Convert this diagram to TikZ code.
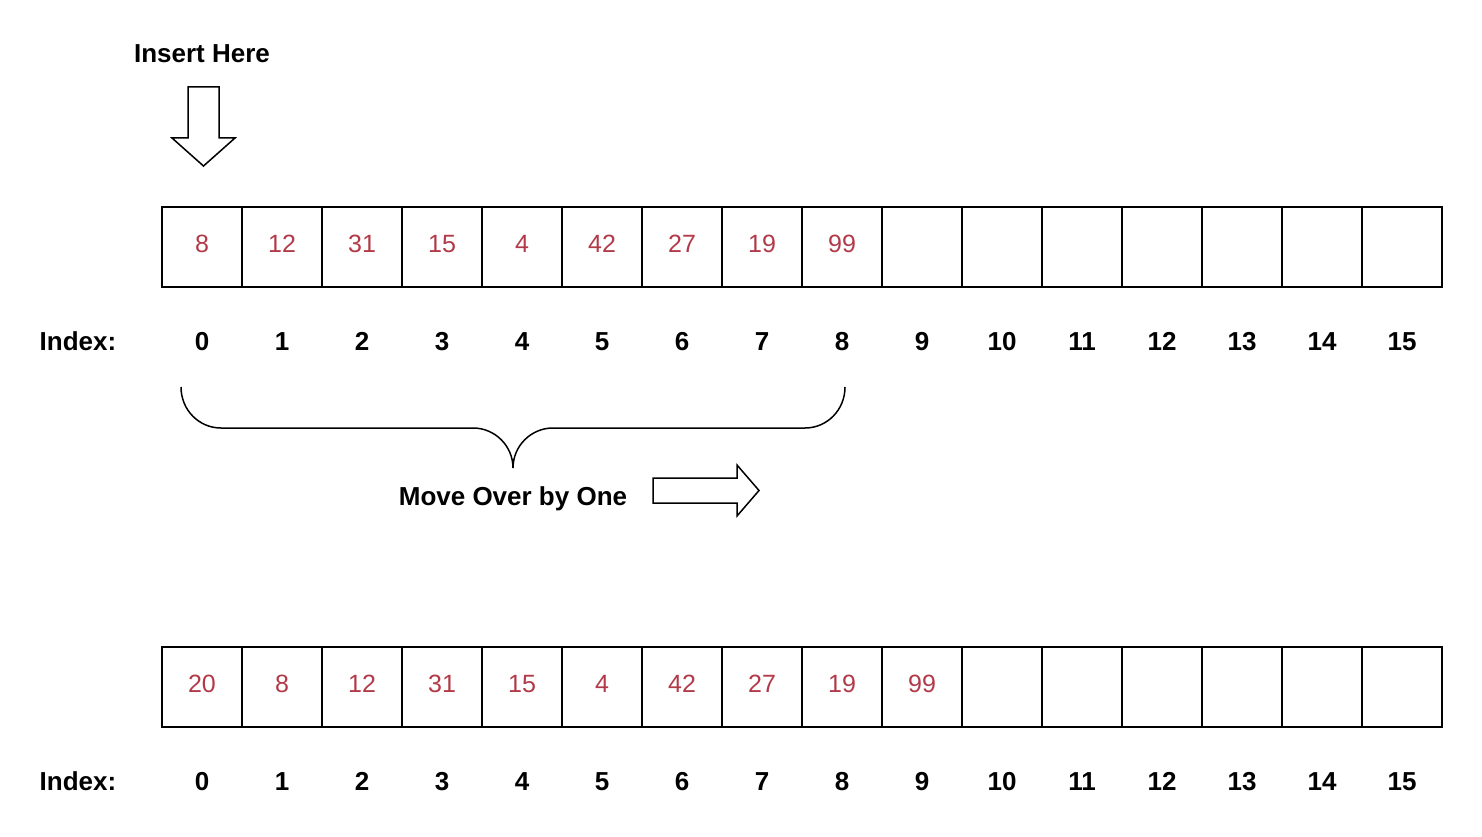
\documentclass[tikz,border=0pt]{standalone}
\usepackage{fontspec}
\setmainfont{Liberation Sans}
\definecolor{valred}{RGB}{178,58,72}
\begin{document}
\begin{tikzpicture}[x=1pt,y=-1pt,slot/.style={shape=rectangle,draw=black,line width=1.5pt,minimum size=80pt,inner sep=0pt,text height=18pt,text depth=7pt,text=valred,font=\fontsize{25}{30}\selectfont},idx/.style={inner sep=0pt,text height=18.6pt,text depth=0pt,font=\fontsize{26}{30}\selectfont\bfseries},capt/.style={anchor=base,font=\fontsize{26}{30}\selectfont\bfseries},blk/.style={draw=black,line width=1.5pt,line join=miter}]
\def\dx{80};
\def\xa{202};
\def\ya{247};
\def\yb{687};
\def\ia{341};
\def\ib{781};

\useasboundingbox (0,0) rectangle (1482,837);

\node[capt] (ins) at (202,63) {Insert Here};
\coordinate (dn) at (203.5,87);
\draw[blk] (dn) ++(-15.5,0) -- ++(31,0) -- ++(0,51) -- ++(16,0) -- ++(-31.5,28) -- ++(-31.5,-28) -- ++(16,0) -- cycle;

\node[slot] (A0) at (\xa+0*\dx,\ya) {8};
\node[slot] (A1) at (\xa+1*\dx,\ya) {12};
\node[slot] (A2) at (\xa+2*\dx,\ya) {31};
\node[slot] (A3) at (\xa+3*\dx,\ya) {15};
\node[slot] (A4) at (\xa+4*\dx,\ya) {4};
\node[slot] (A5) at (\xa+5*\dx,\ya) {42};
\node[slot] (A6) at (\xa+6*\dx,\ya) {27};
\node[slot] (A7) at (\xa+7*\dx,\ya) {19};
\node[slot] (A8) at (\xa+8*\dx,\ya) {99};
\node[slot] (A9) at (\xa+9*\dx,\ya) {};
\node[slot] (A10) at (\xa+10*\dx,\ya) {};
\node[slot] (A11) at (\xa+11*\dx,\ya) {};
\node[slot] (A12) at (\xa+12*\dx,\ya) {};
\node[slot] (A13) at (\xa+13*\dx,\ya) {};
\node[slot] (A14) at (\xa+14*\dx,\ya) {};
\node[slot] (A15) at (\xa+15*\dx,\ya) {};

\node[idx] (IA) at (78,\ia) {Index:};
\node[idx] (IA0) at (\xa+0*\dx,\ia) {0};
\node[idx] (IA1) at (\xa+1*\dx,\ia) {1};
\node[idx] (IA2) at (\xa+2*\dx,\ia) {2};
\node[idx] (IA3) at (\xa+3*\dx,\ia) {3};
\node[idx] (IA4) at (\xa+4*\dx,\ia) {4};
\node[idx] (IA5) at (\xa+5*\dx,\ia) {5};
\node[idx] (IA6) at (\xa+6*\dx,\ia) {6};
\node[idx] (IA7) at (\xa+7*\dx,\ia) {7};
\node[idx] (IA8) at (\xa+8*\dx,\ia) {8};
\node[idx] (IA9) at (\xa+9*\dx,\ia) {9};
\node[idx] (IA10) at (\xa+10*\dx,\ia) {10};
\node[idx] (IA11) at (\xa+11*\dx,\ia) {11};
\node[idx] (IA12) at (\xa+12*\dx,\ia) {12};
\node[idx] (IA13) at (\xa+13*\dx,\ia) {13};
\node[idx] (IA14) at (\xa+14*\dx,\ia) {14};
\node[idx] (IA15) at (\xa+15*\dx,\ia) {15};

% brace under indices 0..8
\coordinate (bl) at (181,387);
\coordinate (bt) at (513,468);
\coordinate (br) at (845,387);
\draw[line width=1.5pt] (bl) .. controls (181,410) and (199,428) .. (221,428) -- (473,428) .. controls (495,428) and (513,446) .. (bt) .. controls (513,446) and (531,428) .. (553,428) -- (805,428) .. controls (827,428) and (845,410) .. (br);

\node[capt] (mv) at (513,505) {Move Over by One};
\coordinate (rt) at (653,490.5);
\draw[blk] (rt) ++(0,-12.5) -- ++(84,0) -- ++(0,-13) -- ++(22,25.5) -- ++(-22,25.5) -- ++(0,-13) -- ++(-84,0) -- cycle;

\node[slot] (B0) at (\xa+0*\dx,\yb) {20};
\node[slot] (B1) at (\xa+1*\dx,\yb) {8};
\node[slot] (B2) at (\xa+2*\dx,\yb) {12};
\node[slot] (B3) at (\xa+3*\dx,\yb) {31};
\node[slot] (B4) at (\xa+4*\dx,\yb) {15};
\node[slot] (B5) at (\xa+5*\dx,\yb) {4};
\node[slot] (B6) at (\xa+6*\dx,\yb) {42};
\node[slot] (B7) at (\xa+7*\dx,\yb) {27};
\node[slot] (B8) at (\xa+8*\dx,\yb) {19};
\node[slot] (B9) at (\xa+9*\dx,\yb) {99};
\node[slot] (B10) at (\xa+10*\dx,\yb) {};
\node[slot] (B11) at (\xa+11*\dx,\yb) {};
\node[slot] (B12) at (\xa+12*\dx,\yb) {};
\node[slot] (B13) at (\xa+13*\dx,\yb) {};
\node[slot] (B14) at (\xa+14*\dx,\yb) {};
\node[slot] (B15) at (\xa+15*\dx,\yb) {};

\node[idx] (IB) at (78,\ib) {Index:};
\node[idx] (IB0) at (\xa+0*\dx,\ib) {0};
\node[idx] (IB1) at (\xa+1*\dx,\ib) {1};
\node[idx] (IB2) at (\xa+2*\dx,\ib) {2};
\node[idx] (IB3) at (\xa+3*\dx,\ib) {3};
\node[idx] (IB4) at (\xa+4*\dx,\ib) {4};
\node[idx] (IB5) at (\xa+5*\dx,\ib) {5};
\node[idx] (IB6) at (\xa+6*\dx,\ib) {6};
\node[idx] (IB7) at (\xa+7*\dx,\ib) {7};
\node[idx] (IB8) at (\xa+8*\dx,\ib) {8};
\node[idx] (IB9) at (\xa+9*\dx,\ib) {9};
\node[idx] (IB10) at (\xa+10*\dx,\ib) {10};
\node[idx] (IB11) at (\xa+11*\dx,\ib) {11};
\node[idx] (IB12) at (\xa+12*\dx,\ib) {12};
\node[idx] (IB13) at (\xa+13*\dx,\ib) {13};
\node[idx] (IB14) at (\xa+14*\dx,\ib) {14};
\node[idx] (IB15) at (\xa+15*\dx,\ib) {15};
\end{tikzpicture}
\end{document}
